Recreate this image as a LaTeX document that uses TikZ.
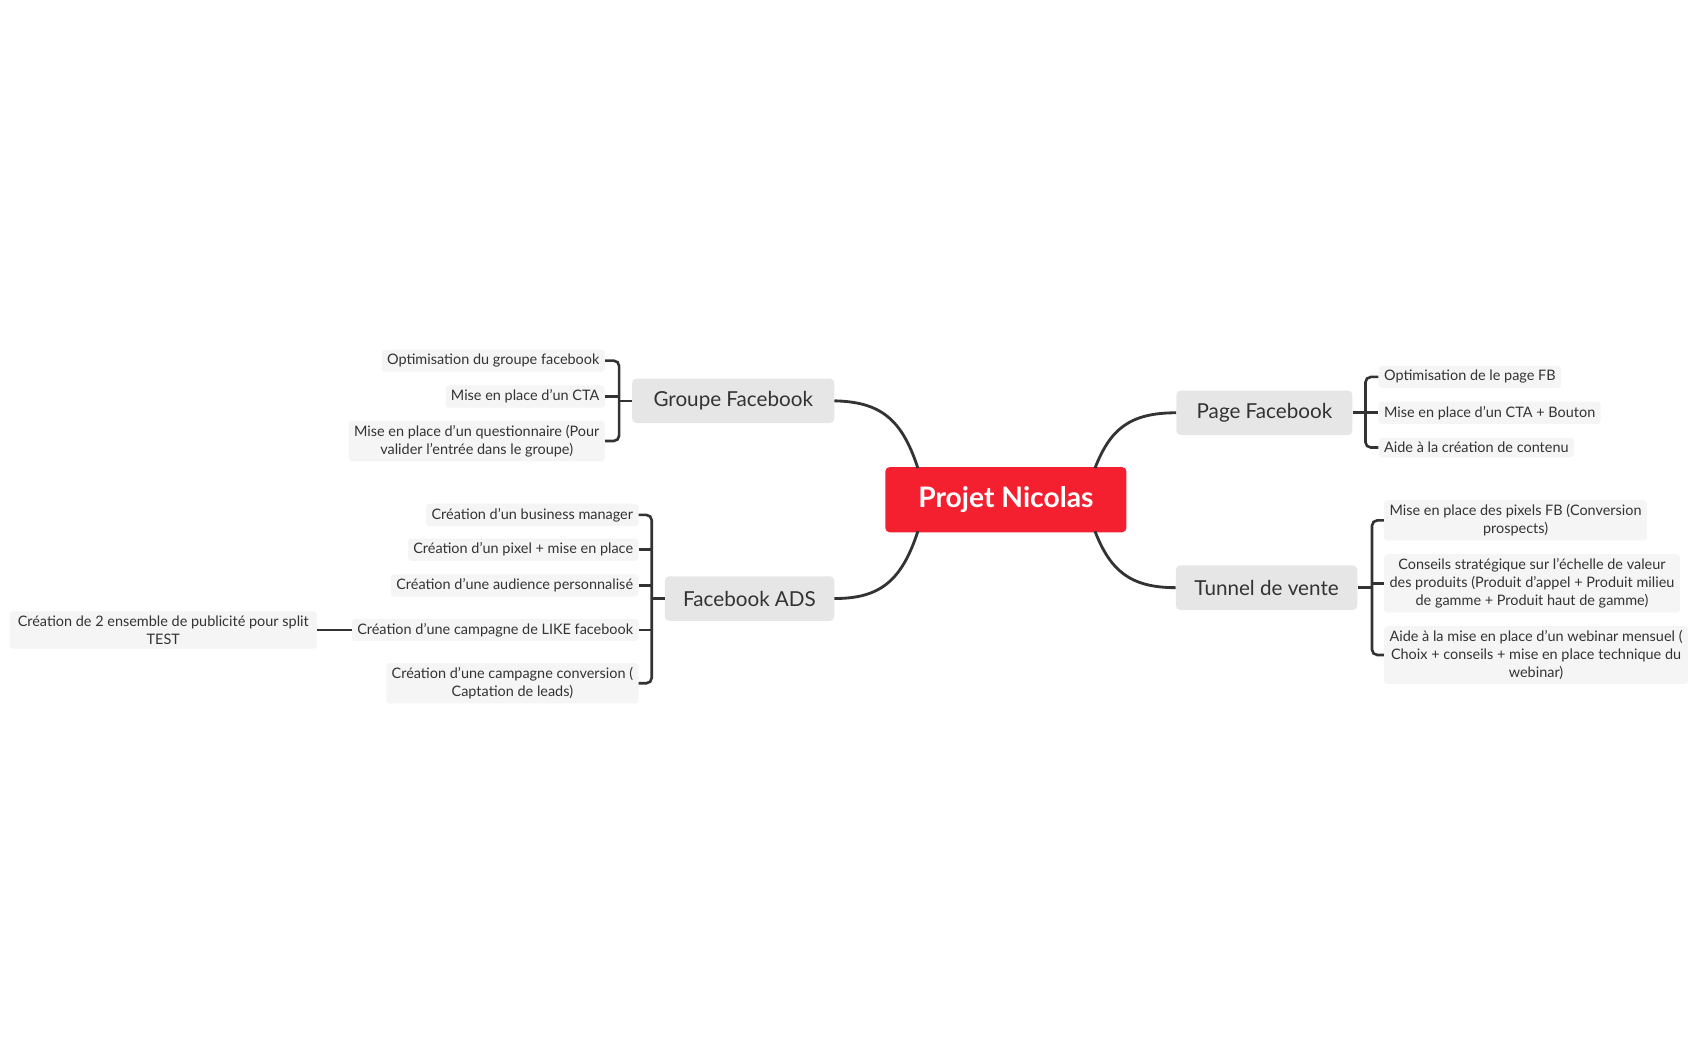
\documentclass[tikz,border=0pt]{standalone}
\usepackage{fontspec}
\setmainfont{Lato}
\definecolor{cred}{HTML}{F5202F}
\definecolor{mid}{HTML}{E6E6E6}
\definecolor{leafc}{HTML}{F5F5F5}
\definecolor{ln}{HTML}{333333}
\tikzset{
 root/.style={fill=cred,text=white,rounded corners=4pt,minimum width=222pt,minimum height=60pt,font=\fontsize{26}{30}\selectfont\bfseries},
 topic/.style={fill=mid,text=ln,rounded corners=4pt,minimum height=41pt,inner xsep=16pt,font=\fontsize{19}{22}\selectfont},
 leaf/.style={fill=leafc,text=ln,rounded corners=3pt,inner xsep=5pt,inner ysep=4pt,align=center,font=\fontsize{13.3}{16.5}\selectfont},
 conn/.style={draw=ln,line width=2.6pt},
 brk/.style={draw=ln,line width=2.4pt,rounded corners=5pt}
}
\begin{document}
\begin{tikzpicture}[x=1pt,y=-1pt]
\useasboundingbox (0,0) rectangle (1565,968);
\node[root] (c) at (926,460) {Projet Nicolas};
\node[topic,minimum width=186pt] (g) at (675,369) {Groupe Facebook};
\node[topic,minimum width=156pt] (a) at (690,551) {Facebook ADS};
\node[topic,minimum width=162pt] (p) at (1164,380) {Page Facebook};
\node[topic,minimum width=167pt] (t) at (1166,541) {Tunnel de vente};
\draw[conn] (845,431) .. controls (830,385) and (810,370) .. (g.east);
\draw[conn] (845,489) .. controls (830,535) and (810,551) .. (a.east);
\draw[conn] (1008,431) .. controls (1022,395) and (1040,380) .. (p.west);
\draw[conn] (1008,489) .. controls (1022,525) and (1040,541) .. (t.west);
% groupe leaves
\node[leaf,anchor=east] (g1) at (557,332) {Optimisation du groupe facebook};
\node[leaf,anchor=east] (g2) at (557,365) {Mise en place d'un CTA};
\node[leaf,anchor=east] (g3) at (557,406) {Mise en place d'un questionnaire (Pour\\valider l'entrée dans le groupe)};
\draw[brk] (g1.east) -| (570,406) -- (g3.east);
\draw[brk] (g2.east) -- (570,365);
\draw[brk] (g.west) -- (570,369);
% ads leaves
\node[leaf,anchor=east] (a1) at (588,474) {Création d'un business manager};
\node[leaf,anchor=east] (a2) at (588,506) {Création d'un pixel + mise en place};
\node[leaf,anchor=east] (a3) at (588,539) {Création d'une audience personnalisé};
\node[leaf,anchor=east] (a4) at (588,580) {Création d'une campagne de LIKE facebook};
\node[leaf,anchor=east] (a5) at (588,629) {Création d'une campagne conversion (\\Captation de leads)};
\node[leaf,anchor=east,minimum width=283pt] (a6) at (292,580) {Création de 2 ensemble de publicité pour split\\TEST};
\draw[brk] (a1.east) -| (600,629) -- (a5.east);
\draw[brk] (a2.east) -- (600,506);
\draw[brk] (a3.east) -- (600,539);
\draw[brk] (a4.east) -- (600,580);
\draw[brk] (a.west) -- (600,551);
\draw[brk] (a4.west) -- (a6.east);
% page leaves
\node[leaf,anchor=west] (p1) at (1269,347) {Optimisation de le page FB};
\node[leaf,anchor=west] (p2) at (1269,380) {Mise en place d'un CTA + Bouton};
\node[leaf,anchor=west] (p3) at (1269,412) {Aide à la création de contenu};
\draw[brk] (p1.west) -| (1257,412) -- (p3.west);
\draw[brk] (p.east) -- (p2.west);
% tunnel leaves
\node[leaf,anchor=west] (t1) at (1274,479) {Mise en place des pixels FB (Conversion\\prospects)};
\node[leaf,anchor=west] (t2) at (1274,537) {Conseils stratégique sur l'échelle de valeur\\des produits (Produit d'appel + Produit milieu\\de gamme + Produit haut de gamme)};
\node[leaf,anchor=west] (t3) at (1274,603) {Aide à la mise en place d'un webinar mensuel (\\Choix + conseils + mise en place technique du\\webinar)};
\draw[brk] (t1.west) -| (1263,603) -- (t3.west);
\draw[brk] (t2.west) -- (1263,537);
\draw[brk] (t.east) -- (1263,541);
\end{tikzpicture}
\end{document}
